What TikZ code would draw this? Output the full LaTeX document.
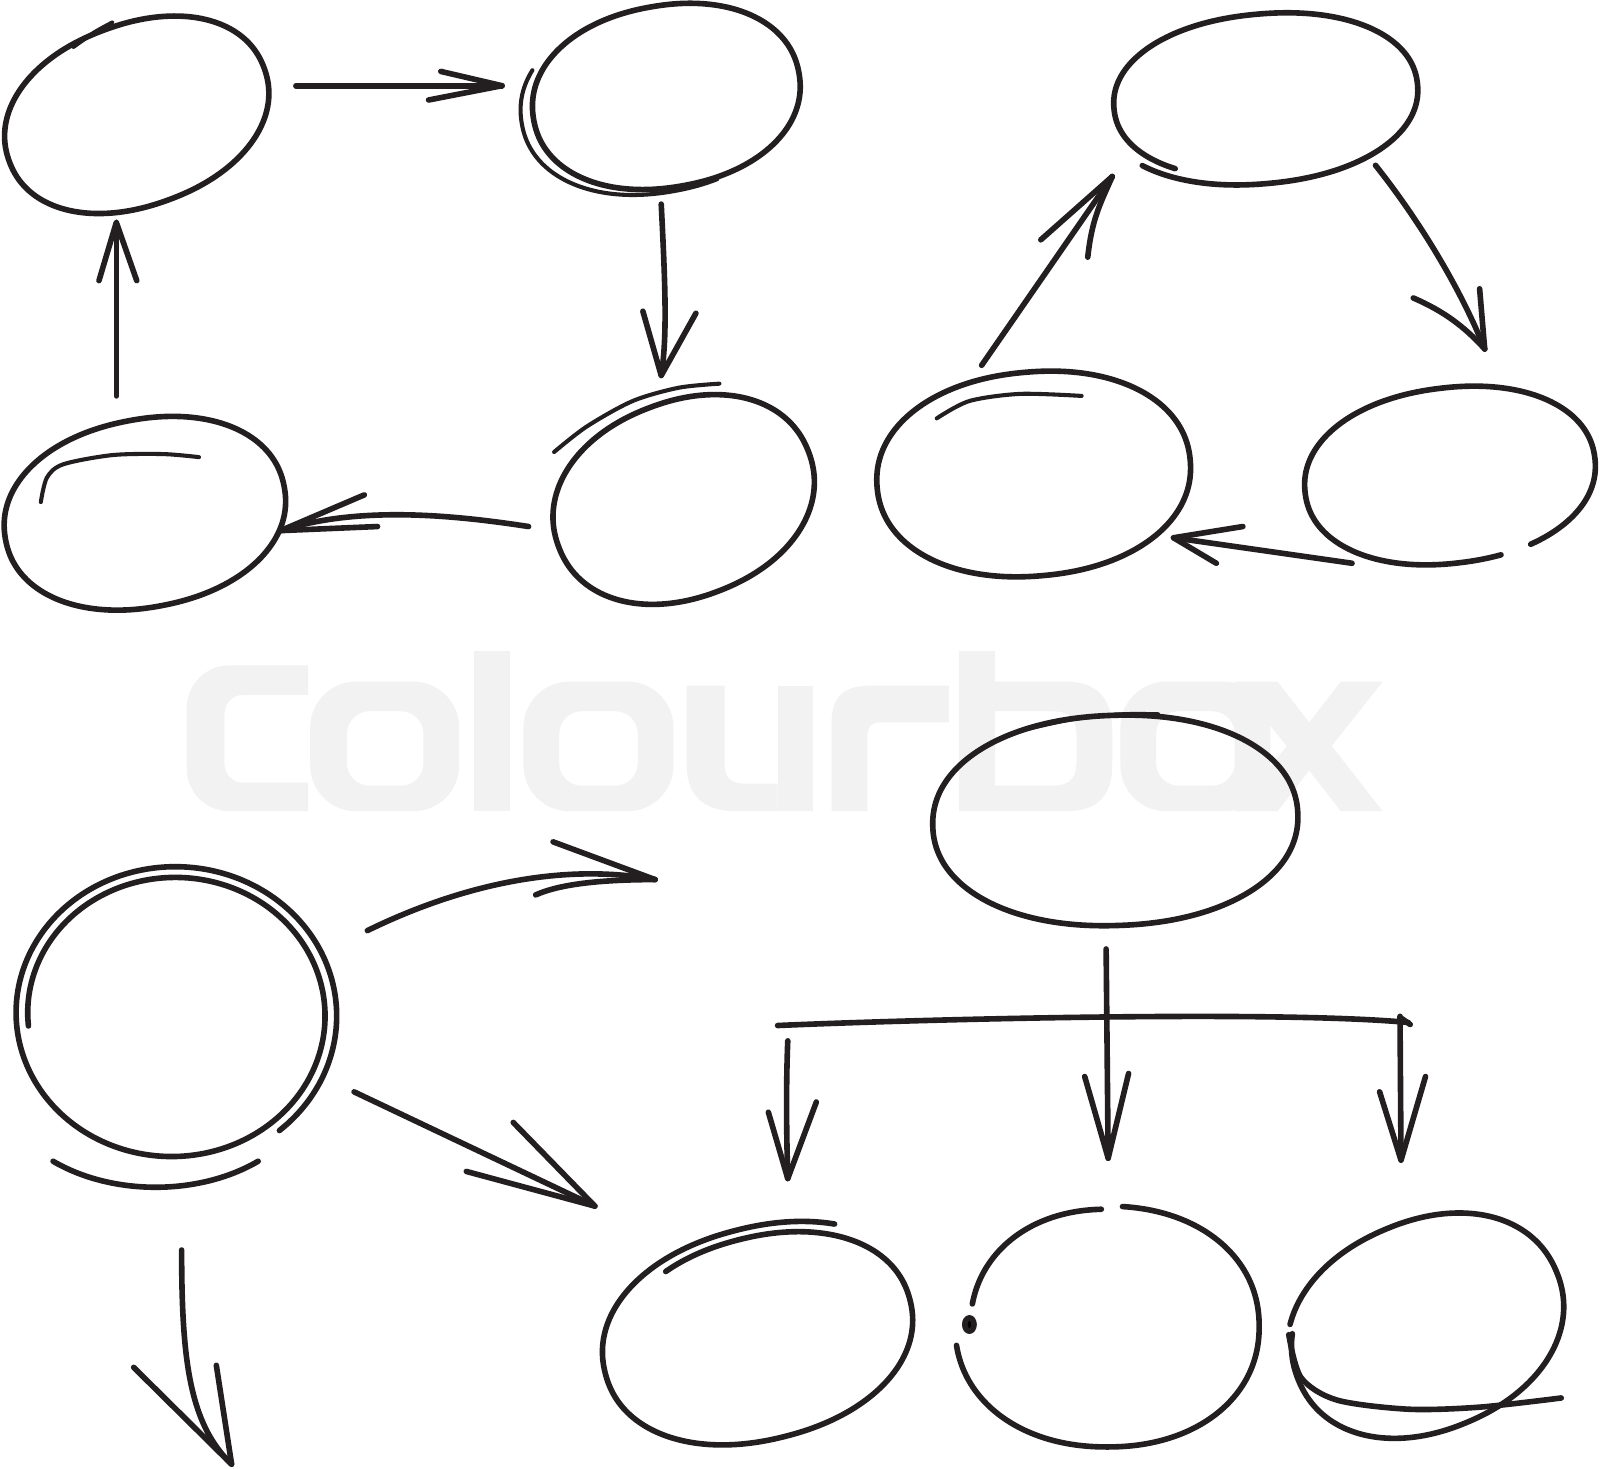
\documentclass[tikz,border=0pt]{standalone}
\usepackage{graphicx}
\definecolor{ink}{HTML}{231F20}
\definecolor{wmc}{HTML}{F2F2F2}
\tikzset{
  ink/.style={draw=ink, line width=5.5pt, line cap=round, line join=round},
  thinink/.style={ink, line width=4pt},
  wm/.style={fill=wmc, draw=none},
}
\newcommand\pq{-0.06}
% superelliptic stroke: cx, cy, a, b, rotation (y down), t-start, t-end, scale at start, scale at end
\newcommand\ovl[9]{plot[variable=\t, domain=#6:#7, samples=160, smooth] ({#1+(#8+(#9-#8)*(\t-(#6))/((#7)-(#6)))*((#3)*cos(\t)*pow(abs(cos(\t))+0.0001,\pq)*cos(#5)-(#4)*sin(\t)*pow(abs(sin(\t))+0.0001,\pq)*sin(#5))}, {#2+(#8+(#9-#8)*(\t-(#6))/((#7)-(#6)))*((#3)*cos(\t)*pow(abs(cos(\t))+0.0001,\pq)*sin(#5)+(#4)*sin(\t)*pow(abs(sin(\t))+0.0001,\pq)*cos(#5))})}
\begin{document}
\begin{tikzpicture}[x=1pt,y=-1pt]
\fill[white] (0,0) rectangle (1568,1439);
\useasboundingbox (0,0) rectangle (1568,1439);

% ---------- watermark "Colourbox" ----------
\begin{scope}
\clip (180,630) rectangle (302,800);
\fill[wm, even odd rule] [rounded corners=42pt] (183,652) rectangle (380,795) [rounded corners=18pt] (220,681) rectangle (400,767);
\end{scope}
\fill[wm, even odd rule] [rounded corners=45pt] (304,668) rectangle (450,795) [rounded corners=22pt] (340,697) rectangle (415,770);
\fill[wm] (465,638) rectangle (500,795);
\fill[wm, even odd rule] [rounded corners=45pt] (513,668) rectangle (660,795) [rounded corners=22pt] (548,697) rectangle (625,770);
\fill[wm] (673,672) -- (710,672) -- (710,748) .. controls (710,762) and (716,768) .. (730,768) -- (762,768) -- (762,795) -- (722,795) .. controls (690,795) and (673,780) .. (673,750) -- cycle;
\fill[wm] (762,672) rectangle (797,795);
\fill[wm] (815,795) -- (815,708) .. controls (815,684) and (826,672) .. (852,672) -- (930,672) -- (930,708) -- (862,708) .. controls (854,708) and (850,712) .. (850,722) -- (850,795) -- cycle;
\fill[wm] (940,638) rectangle (975,795);
\fill[wm, even odd rule] (940,668) -- (1045,668) .. controls (1075,668) and (1090,685) .. (1090,715) -- (1090,750) .. controls (1090,780) and (1075,795) .. (1045,795) -- (940,795) -- cycle
  (975,697) -- (1030,697) .. controls (1050,697) and (1055,705) .. (1055,722) -- (1055,745) .. controls (1055,762) and (1050,770) .. (1030,770) -- (975,770) -- cycle;
\fill[wm, even odd rule] [rounded corners=45pt] (1098,668) rectangle (1245,795) [rounded corners=22pt] (1133,697) rectangle (1210,770);
\fill[wm] (1210,668) -- (1252,668) -- (1283,708) -- (1314,668) -- (1355,668) -- (1305,731) -- (1355,795) -- (1314,795) -- (1283,755) -- (1252,795) -- (1210,795) -- (1261,731) -- cycle;

% ---------- group 1 ----------
\draw[ink] \ovl{134}{112.5}{133}{89}{-20}{0}{360}{1}{1};                % A
\draw[thinink] plot[smooth] coordinates {(72,46) (92,32) (110,22)};
\draw[ink] \ovl{653}{94.5}{132}{89}{-10}{0}{360}{1}{1};                 % B
\draw[thinink] \ovl{644}{98}{132}{89}{-10}{72}{212}{1.02}{1.02};
\draw[ink] \ovl{670}{489.5}{131}{96}{-21}{0}{360}{1}{1};                % C
\draw[thinink] plot[smooth] coordinates {(543,443) (575,418) (620,393) (665,380) (705,376)};
\draw[ink] \ovl{142}{503}{139}{92}{-11}{0}{360}{1}{1};                  % D
\draw[thinink] plot[smooth] coordinates {(40,492) (46,468) (62,455) (110,446) (160,445) (195,448)};

\coordinate (ab1) at (290,84);   \coordinate (ab2) at (492,84);
\coordinate (bc1) at (648,200);  \coordinate (bc2) at (648,368);
\coordinate (cd1) at (518,516);  \coordinate (cd2) at (275,520);
\coordinate (da1) at (114,388);  \coordinate (da2) at (114,218);
\draw[ink] (ab1) -- (ab2);
\draw[ink] (432,70) -- (ab2) -- (420,98);
\draw[ink] (bc1) .. controls (652,280) and (654,330) .. (bc2);
\draw[ink] (630,305) -- (bc2) -- (682,307);
\draw[ink] (cd1) .. controls (440,504) and (350,496) .. (cd2);
\draw[ink] (357,485) -- (cd2) -- (370,516);
\draw[ink] (da1) -- (da2);
\draw[ink] (97,275) -- (da2) -- (134,275);

% ---------- group 2 ----------
\draw[ink] \ovl{1237}{95}{158}{86}{-5}{128}{500}{0.91}{1};              % E
\draw[ink] \ovl{1013}{464.5}{154}{100}{-5}{0}{360}{1}{1};               % F
\draw[thinink] plot[smooth] coordinates {(918,410) (950,393) (1000,386) (1060,388)};
\draw[ink] \ovl{1421}{466}{143}{86}{-7}{-285}{62}{1}{1};                % G

\coordinate (fe1) at (962,358);  \coordinate (fe2) at (1090,173);
\coordinate (eg1) at (1348,162); \coordinate (eg2) at (1455,342);
\coordinate (gf1) at (1325,552); \coordinate (gf2) at (1150,527);
\draw[ink] (fe1) -- (fe2);
\draw[ink] (1020,235) -- (fe2);
\draw[ink] (1066,252) .. controls (1070,215) and (1078,200) .. (fe2);
\draw[ink] (eg1) .. controls (1390,215) and (1430,280) .. (eg2);
\draw[ink] (1385,292) .. controls (1415,305) and (1435,320) .. (eg2);
\draw[ink] (1450,283) -- (eg2);
\draw[ink] (gf1) -- (gf2);
\draw[ink] (1218,516) -- (gf2) -- (1192,552);

% ---------- group 3 ----------
\renewcommand\pq{0}
\draw[ink] \ovl{170}{994}{164}{151}{0}{175}{770}{0.87}{0.985};          % H
\renewcommand\pq{-0.06}
\draw[ink] (52,1138) .. controls (110,1172) and (195,1172) .. (253,1138);

\coordinate (hu1) at (360,912);  \coordinate (hu2) at (642,862);
\coordinate (hk1) at (347,1070); \coordinate (hk2) at (583,1182);
\coordinate (hd1) at (178,1225); \coordinate (hd2) at (227,1435);
\draw[ink] (hu1) .. controls (450,868) and (550,845) .. (hu2);
\draw[ink] (542,825) -- (hu2);
\draw[ink] (hu2) .. controls (580,862) and (545,868) .. (525,877);
\draw[ink] (hk1) -- (hk2);
\draw[ink] (503,1100) -- (hk2) -- (457,1148);
\draw[ink] (hd1) .. controls (178,1330) and (185,1395) .. (hd2);
\draw[ink] (131,1340) -- (hd2) -- (212,1338);

% ---------- group 4 ----------
\draw[ink] \ovl{1093}{804}{179}{103}{-2}{0}{360}{1}{1};                 % J
\draw[thinink] plot[smooth] coordinates {(1000,716) (1050,705) (1100,700) (1135,700)};

\coordinate (jv1) at (1084,930);  \coordinate (jv2) at (1086,1135);
\coordinate (bl) at (762,1005);   \coordinate (br) at (1380,1002);
\coordinate (lv1) at (772,1020);  \coordinate (lv2) at (772,1155);
\coordinate (rv1) at (1372,996);  \coordinate (rv2) at (1373,1137);
\draw[ink] (jv1) -- (jv2);
\draw[ink] (1063,1055) -- (jv2) -- (1106,1052);
\draw[ink] (bl) .. controls (900,999) and (1250,990) .. (br);
\draw[ink] (1372,997) -- (1382,1004);
\draw[ink] (lv1) .. controls (770,1070) and (771,1120) .. (lv2);
\draw[ink] (753,1090) -- (lv2) -- (800,1080);
\draw[ink] (rv1) -- (rv2);
\draw[ink] (1352,1070) -- (rv2) -- (1397,1055);

\draw[ink] \ovl{746}{1309}{156}{103}{-14}{-120}{305}{0.93}{1.04};       % K
\draw[ink] \ovl{1085}{1300}{134}{115}{0}{-170}{-92}{1}{1};              % L
\fill[ink] (950,1298) ellipse (4.5pt and 6.5pt);
\draw[ink] \ovl{1085}{1300}{149}{118}{0}{-85}{172}{1}{1};
\draw[ink] \ovl{1398}{1300}{140}{104}{-23}{-150}{205}{1}{0.97};         % M
\draw[ink] plot[smooth] coordinates {(1263,1308) (1275,1350) (1310,1372) (1380,1381) (1450,1379) (1530,1370)};
\end{tikzpicture}
\end{document}
